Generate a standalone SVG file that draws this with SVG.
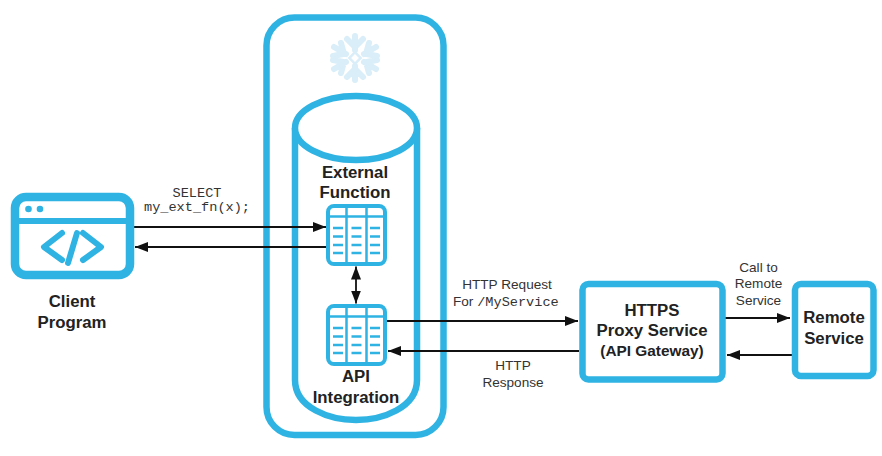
<svg xmlns="http://www.w3.org/2000/svg" xmlns:xlink="http://www.w3.org/1999/xlink" width="882" height="456" viewBox="0 0 882 456">
<style>
.b{fill:#fff;stroke:#2fb3e3;stroke-width:6.5}
.s{fill:none;stroke:#2fb3e3}
.t{font-family:"Liberation Sans",Arial,sans-serif;font-weight:700;font-size:16.8px;fill:#222;text-anchor:middle}
.l{font-family:"Liberation Sans",Arial,sans-serif;font-size:13.6px;fill:#333;text-anchor:middle}
.m{font-family:"Liberation Mono","Courier New",monospace;font-size:13.6px;fill:#333}
.c{fill:none;stroke:#111;stroke-width:1.8}
</style>
<defs>
<marker id="a" markerUnits="userSpaceOnUse" markerWidth="14" markerHeight="12" refX="13" refY="5" orient="auto-start-reverse"><path d="M0 0L13 5L0 10Z" fill="#111"/></marker>
<g id="tbl">
<rect x="-28.5" y="0" width="57" height="58" rx="6" fill="#fff" stroke="#2fb3e3" stroke-width="4"/>
<path class="s" stroke-width="2.5" d="M-10 0V58M10 0V58M-28.5 10.5H28.5"/>
<path class="s" stroke-width="2.5" d="M-23.5 22H-13.5M-5 22H5M13.5 22H23.5M-23.5 30.5H-13.5M-5 30.5H5M13.5 30.5H23.5M-23.5 39H-13.5M-5 39H5M13.5 39H23.5M-23.5 47H-13.5M-5 47H5M13.5 47H23.5"/>
</g>
</defs>
<rect width="882" height="456" fill="#fff"/>
<g id="snowflake-container">
<rect class="b" x="266.5" y="17.5" width="177" height="417.5" rx="28"/>
<g id="snowflake" fill="none" stroke="#d9eef8" stroke-width="6" stroke-linecap="round">
<path d="M355 36V50M347 39L355 47L363 39M355 80V66M347 77L355 69L363 77M334 47L346 54M333 56L344 54L341 43M376 47L364 54M377 56L366 54L369 43M334 69L346 62M333 60L344 62L341 73M376 69L364 62M377 60L366 62L369 73"/>
<rect x="351" y="54" width="8" height="8" transform="rotate(45 355 58)" stroke-width="2.5"/>
</g>
</g>
<g id="cylinder">
<path class="b" d="M295 128V380C295 408 330 420 356 420C382 420 417 408 417 380V128"/>
<ellipse class="b" cx="356" cy="128" rx="61" ry="32"/>
</g>
<g id="connectors">
<path class="c" d="M133 227H326" marker-end="url(#a)"/>
<path class="c" d="M326 247H135" marker-end="url(#a)"/>
<path class="c" d="M356 266.5V303.5" marker-start="url(#a)" marker-end="url(#a)"/>
<path class="c" d="M386 321H578" marker-end="url(#a)"/>
<path class="c" d="M579 351H388" marker-end="url(#a)"/>
<path class="c" d="M725 318H790" marker-end="url(#a)"/>
<path class="c" d="M792 355H727" marker-end="url(#a)"/>
</g>
<g id="client">
<rect x="15" y="197" width="115" height="78" rx="11" fill="#fff" stroke="#2fb3e3" stroke-width="8.5"/>
<path class="s" stroke-width="6" d="M15 221H130"/>
<circle cx="28.500" cy="209" r="3.300" fill="#2fb3e3"/><circle cx="40" cy="209" r="3.300" fill="#2fb3e3"/>
<path class="s" stroke-width="6" stroke-linecap="round" stroke-linejoin="round" d="M62 233L44 247L62 260M83 233L101 247L83 260M77 233L68 263"/>
<text class="t" x="72" y="307">Client</text><text class="t" x="72" y="328">Program</text>
</g>
<g id="external-function">
<text class="t" x="355" y="178">External</text><text class="t" x="355" y="198">Function</text>
<use xlink:href="#tbl" href="#tbl" transform="translate(356.500 206)"/>
</g>
<g id="api-integration">
<use xlink:href="#tbl" href="#tbl" transform="translate(356.500 306)"/>
<text class="t" x="356" y="382">API</text><text class="t" x="356" y="403">Integration</text>
</g>
<g id="proxy">
<rect class="b" x="582.500" y="284" width="140" height="95.500" rx="6"/>
<text class="t" x="652" y="316">HTTPS</text><text class="t" x="652" y="336">Proxy Service</text><text class="t" x="652" y="356" style="font-size:15.4px">(API Gateway)</text>
</g>
<g id="remote">
<rect class="b" x="795" y="284" width="78.500" height="92" rx="6"/>
<text class="t" x="834" y="323">Remote</text><text class="t" x="834" y="344">Service</text>
</g>
<g id="labels">
<text class="m" x="197" y="197" text-anchor="middle">SELECT</text>
<text class="m" x="197" y="211" text-anchor="middle">my_ext_fn(x);</text>
<text class="l" x="507" y="289">HTTP Request</text>
<text class="l" x="453" y="306" style="text-anchor:start">For <tspan class="m">/MyService</tspan></text>
<text class="l" x="513" y="370">HTTP</text><text class="l" x="513" y="387">Response</text>
<text class="l" x="758.500" y="272">Call to</text><text class="l" x="758.500" y="288">Remote</text><text class="l" x="758.500" y="305">Service</text>
</g>
</svg>
